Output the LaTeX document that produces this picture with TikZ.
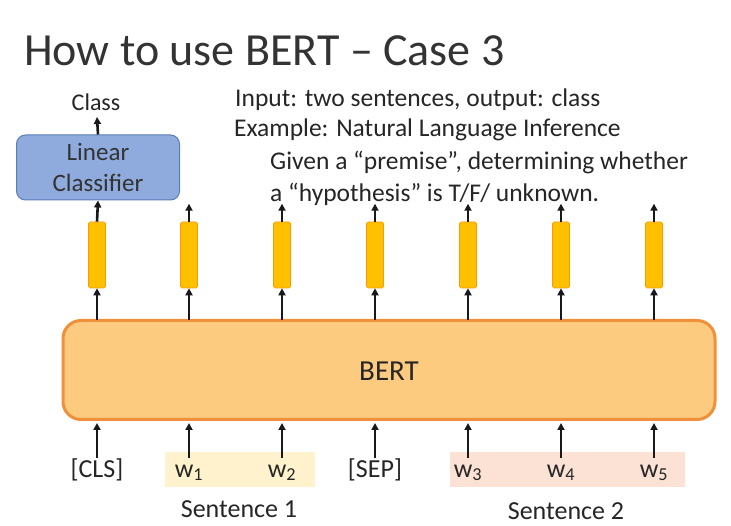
\documentclass[tikz,border=0pt]{standalone}
\usepackage{fontspec}
\setmainfont{Carlito}
\usetikzlibrary{arrows.meta}
\definecolor{bertfill}{HTML}{FDCB80}
\definecolor{bertdraw}{HTML}{F0903A}
\definecolor{barfill}{HTML}{FFC000}
\definecolor{lcfill}{HTML}{8FAADC}
\definecolor{lcdraw}{HTML}{5B7DB8}
\definecolor{s1fill}{HTML}{FFF2CC}
\definecolor{s2fill}{HTML}{FBE2D5}
\begin{document}
\begin{tikzpicture}[x=1pt,y=-1pt,
 bar/.style={draw=orange!80!yellow,line width=0.6pt,fill=barfill,rounded corners=1.5,minimum width=17,minimum height=66,inner sep=0},
 arr/.style={-{Triangle[length=7pt,width=7pt]},line width=2.6pt,black!90},
 txt/.style={font=\fontsize{25.5}{30}\selectfont,text=black!85,inner sep=0},
 lab/.style={font=\fontsize{26}{30}\selectfont,text=black!85,inner sep=0,anchor=base}]
\useasboundingbox[fill=white] (0,0) rectangle (731,526);
\node[font=\fontsize{46}{54}\selectfont,text=black!80,anchor=base west,inner sep=0] (title) at (24,66) {How to use BERT -- Case 3};
\node[txt,anchor=base west] (t1) at (235,107) {Input: two sentences, output: class};
\node[txt,anchor=base west] (t2) at (234,137) {Example: Natural Language Inference};
\node[txt,anchor=base west] (t3) at (270,170) {Given a “premise”, determining whether};
\node[txt,anchor=base west] (t4) at (270,202) {a “hypothesis” is T/F/ unknown.};
\node[draw=lcdraw,fill=lcfill,rounded corners=9,minimum width=163,minimum height=65,align=center,font=\fontsize{25}{31}\selectfont,text=black!80,line width=1pt] (lc) at (98,167.5) {Linear\\Classifier};
\node[lab,font=\fontsize{24}{28}\selectfont] (cls) at (96,111) {Class};
\draw[arr] (lc.north) -- (97,117);
\node[draw=bertdraw,line width=3pt,fill=bertfill,rounded corners=18,minimum width=652,minimum height=99] (bert) at (389,370) {};
\node[font=\fontsize{29}{32}\selectfont,text=black!85] (bl) at (389,371) {BERT};
\fill[s1fill] (165,452) rectangle (315,487);
\fill[s2fill] (450,452) rectangle (685,487);
\foreach \x/\n/\t in {97/a/[CLS],189/b/w\textsubscript{1},282/c/w\textsubscript{2},375/d/[SEP],468/e/w\textsubscript{3},561/f/w\textsubscript{4},654/g/w\textsubscript{5}}{
  \node[bar] (bar\n) at (\x,255) {};
  \coordinate (top\n) at (\x,320);
  \draw[arr] (top\n) -- (bar\n.south);
  \node[lab] (in\n) at (\x,477) {\t};
  \draw[arr] (\x,458) -- (\x,423);
}
\foreach \n in {b,c,d,e,f,g}{ \draw[arr] (bar\n.north) -- ++(0,-18); }
\draw[arr] (bara.north) -- (lc.south);
\node[lab] (s1) at (239,517) {Sentence 1};
\node[lab] (s2) at (566,519) {Sentence 2};
\end{tikzpicture}
\end{document}
